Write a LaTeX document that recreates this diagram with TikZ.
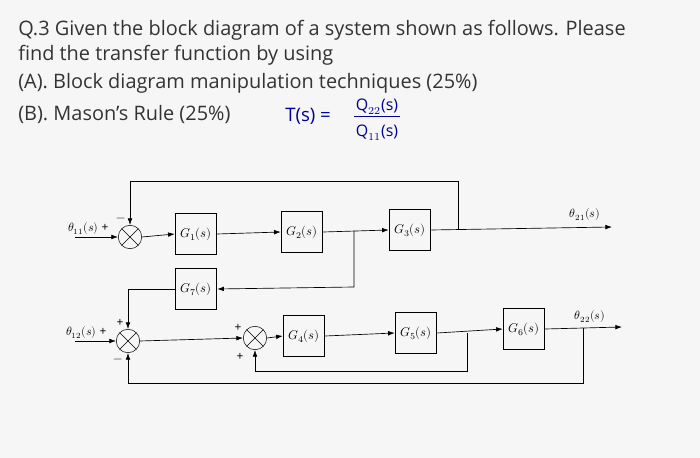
\documentclass[tikz,border=0pt]{standalone}
\usepackage{fontspec}
\setmainfont{Open Sans}
\usepackage{unicode-math}
\setmathfont{Latin Modern Math}
\usetikzlibrary{arrows.meta}
\begin{document}
\begin{tikzpicture}[x=0.02646cm,y=-0.02646cm,
  blk/.style={draw,line width=0.7pt,minimum width=1.1cm,minimum height=1.1cm,inner sep=0pt,font=\fontsize{9.5}{10}\selectfont},
  sumj/.style={draw,circle,minimum size=0.62cm,inner sep=0pt,path picture={\draw (path picture bounding box.north west)--(path picture bounding box.south east) (path picture bounding box.north east)--(path picture bounding box.south west);}},
  ln/.style={line width=0.5pt},
  ar/.style={ln,-{Latex[length=5pt,width=3.5pt]}},
  sg/.style={font=\fontsize{9}{10}\selectfont,inner sep=1pt},
  q/.style={anchor=base west,font=\fontsize{15}{17}\selectfont,text=black!80,inner sep=0pt}]
\fill[gray!7] (0,0) rectangle (700,458);
\useasboundingbox (0,0) rectangle (700,458);
\node[q] (t1) at (18,36) {Q.3 Given the block diagram of a system shown as follows. Please};
\node[q] (t2) at (18,61) {find the transfer function by using};
\node[q] (t3) at (18,89) {(A). Block diagram manipulation techniques (25\%)};
\node[q] (t4) at (18,121) {(B). Mason’s Rule (25\%)};
\node[anchor=base west,text=blue!60!black,font=\fontsize{14}{15}\selectfont,inner sep=0pt] (tf) at (285,122) {T(s) =};
\node[text=blue!60!black,font=\fontsize{12}{13}\selectfont,inner sep=1pt] (tn) at (377,107) {Q$_{22}$(s)};
\node[text=blue!60!black,font=\fontsize{12}{13}\selectfont,inner sep=1pt] (td) at (377,133) {Q$_{11}$(s)};
\draw[blue!60!black,line width=0.6pt] (tn.south west) -- (tn.south east);
% blocks
\node[sumj] (s1) at (130,237) {};
\node[blk] (g1) at (196,234) {$G_1(s)$};
\node[blk] (g2) at (302,232) {$G_2(s)$};
\node[blk] (g3) at (410,230) {$G_3(s)$};
\node[blk] (g7) at (196,289) {$G_7(s)$};
\node[sumj] (s2) at (128,341) {};
\node[sumj] (s3) at (255,338) {};
\node[blk] (g4) at (304,336) {$G_4(s)$};
\node[blk] (g5) at (416,333) {$G_5(s)$};
\node[blk] (g6) at (524,329) {$G_6(s)$};
\coordinate (in1) at (75,237);
\coordinate (in2) at (75,341);
\coordinate (o1) at (612,227);
\coordinate (o2) at (622,327);
\draw[ar] (in1) -- (s1.west);
\draw[ar] (s1.east) -- (g1.west);
\draw[ar] (g1.east) -- (g2.west);
\draw[ar] (g2.east) -- (g3.west);
\draw[ar] (g3.east) -- (o1);
\draw[ar] (458,229) -- (458,181) -| (s1.north);
\draw[ar] (354,231) -- (354,287) -- (g7.east);
\draw[ar] (g7.west) -| (s2.north);
\draw[ar] (in2) -- (s2.west);
\draw[ar] (s2.east) -- (s3.west);
\draw[ar] (s3.east) -- (g4.west);
\draw[ar] (g4.east) -- (g5.west);
\draw[ar] (g5.east) -- (g6.west);
\draw[ar] (g6.east) -- (o2);
\draw[ar] (467,333) -- (467,371) -| (s3.south);
\draw[ar] (583,328) -- (583,383) -| (s2.south);
% labels
\node[sg,anchor=east] (l1) at (110,229) {$\theta_{11}(s)$ +};
\node[sg,anchor=east] (l2) at (108,333) {$\theta_{12}(s)$ +};
\node[sg] (l21) at (585,215) {$\theta_{21}(s)$};
\node[sg] (l22) at (590,317) {$\theta_{22}(s)$};
\node[sg] (m1) at (121,220) {$-$};
\node[sg] (p2) at (120,323) {+};
\node[sg] (m2) at (118,361) {$-$};
\node[sg] (p3) at (238,328) {+};
\node[sg] (p4) at (240,357) {+};
\end{tikzpicture}
\end{document}
